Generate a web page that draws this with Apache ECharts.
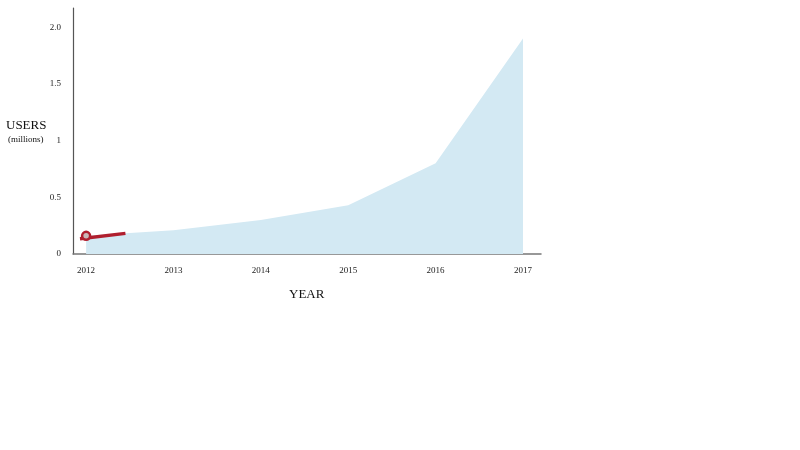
<!DOCTYPE html>
<html lang="en">
<head>
    <meta charset="UTF-8"/>
    <script src="https://cdn.jsdelivr.net/npm/echarts@6/dist/echarts.min.js"></script>
    <title>Users</title>
</head>
<body style="margin:0">
<div id="main" style="width: 800px;height:450px;"></div>
<script type="text/javascript">
    // data
    var years = [2012, 2013, 2014, 2015, 2016, 2017];
    var users = [0.16, 0.21, 0.30, 0.43, 0.80, 1.90];
    var markerLine = [[2011.93, 0.135], [2012.45, 0.182]];
    var markerPoint = [[2012, 0.16]];
    var yTicks = ['0', '0.5', '1', '1.5', '2.0'];

    var myChart = echarts.init(document.getElementById('main'));
    var font = 'Liberation Serif';

    var option = {
        animation: false,
        textStyle: {fontFamily: font},
        grid: {left: 73, top: 8, width: 468, height: 246},
        graphic: [
            {type: 'text', left: 6, top: 119, style: {text: 'USERS', font: '13px "Liberation Serif"', fill: '#111'}},
            {type: 'text', left: 8, top: 135, style: {text: '(millions)', font: '9px "Liberation Serif"', fill: '#111'}},
            {type: 'text', left: 289, top: 288, style: {text: 'YEAR', font: '13px "Liberation Serif"', fill: '#111'}}
        ],
        xAxis: {
            type: 'value',
            min: 2011.85,
            max: 2017.206,
            interval: 1,
            axisLine: {lineStyle: {color: '#777', width: 1.5}},
            axisTick: {show: false},
            splitLine: {show: false},
            axisLabel: {
                fontSize: 9, color: '#222', margin: 12,
                customValues: years,
                formatter: function (v) { return String(Math.round(v)); }
            }
        },
        yAxis: {
            type: 'value',
            min: 0,
            max: 2.17,
            interval: 0.5,
            axisLine: {show: true, lineStyle: {color: '#555', width: 1.2}},
            axisTick: {show: false},
            splitLine: {show: false},
            axisLabel: {
                fontSize: 9, color: '#222', margin: 12,
                customValues: [0, 0.5, 1, 1.5, 2],
                formatter: function (v) { return yTicks[Math.round(v * 2)]; }
            }
        },
        series: [
            {
                type: 'line',
                data: years.map(function (y, i) { return [y, users[i]]; }),
                symbol: 'none',
                lineStyle: {width: 0},
                areaStyle: {color: '#d3e9f3', opacity: 1}
            },
            {
                type: 'line',
                data: markerLine,
                symbol: 'none',
                z: 3,
                lineStyle: {color: '#b01f2e', width: 3.5}
            },
            {
                type: 'scatter',
                data: markerPoint,
                symbolSize: 8,
                z: 5,
                itemStyle: {color: '#c9b8b8', borderColor: '#b01f2e', borderWidth: 2.5, opacity: 1}
            }
        ]
    };

    myChart.setOption(option);
</script>
</body>
</html>
